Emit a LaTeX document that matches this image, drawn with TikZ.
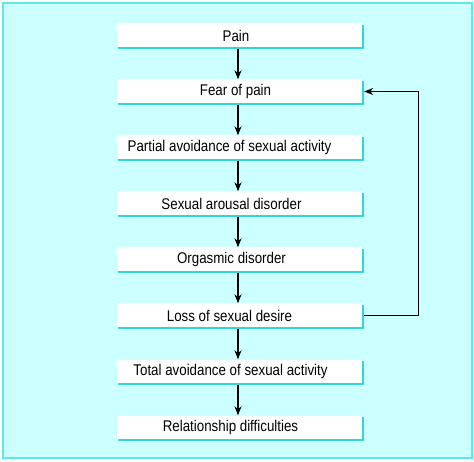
\documentclass[tikz,border=0pt]{standalone}
\usepackage{fontspec}
\setmainfont{Liberation Sans}[FakeStretch=0.86]
\usetikzlibrary{arrows.meta}
\definecolor{bgcyan}{HTML}{CCFFFF}
\definecolor{edgecyan}{HTML}{5EE8E8}
\definecolor{shadowcyan}{HTML}{33D6D6}
\tikzset{
  stepbox/.style={rectangle, fill=white, minimum width=245pt, minimum height=24pt, inner sep=0pt, font=\fontsize{15.5}{17}\selectfont},
  flow/.style={draw=black, line width=1.2pt, -{Stealth[length=9pt,width=7pt]}},
  fback/.style={draw=black, line width=1pt, -{Stealth[length=9pt,width=7pt]}},
  shadowline/.style={draw=shadowcyan, line width=1.8pt}
}
\newcommand{\lft}[2]{\kern-#1pt #2}
\begin{document}
\begin{tikzpicture}[x=1pt,y=1pt]
\useasboundingbox (0,0) rectangle (474,461);
\draw[fill=bgcyan, draw=edgecyan, line width=2pt] (3,3) rectangle (472,458);
\node[stepbox] (b1) at (239.5,{461-35.5}) {\lft{7}{Pain}};
\node[stepbox] (b2) at (239.5,{461-91.5}) {\lft{8}{Fear of pain}};
\node[stepbox] (b3) at (239.5,{461-147.5}) {\lft{20}{Partial avoidance of sexual activity}};
\node[stepbox] (b4) at (239.5,{461-203.5}) {\lft{16}{Sexual arousal disorder}};
\node[stepbox] (b5) at (239.5,{461-259.5}) {\lft{16}{Orgasmic disorder}};
\node[stepbox] (b6) at (239.5,{461-315.5}) {\lft{20}{Loss of sexual desire}};
\node[stepbox] (b7) at (239.5,{461-371.5}) {\lft{18}{Total avoidance of sexual activity}};
\node[stepbox] (b8) at (239.5,{461-427.5}) {\lft{18}{Relationship difficulties}};
\foreach \n in {b1,b2,b3,b4,b5,b6,b7,b8}{
  \draw[shadowline] ([xshift=1.5pt,yshift=-0.5pt]\n.south west) -- ([xshift=1pt,yshift=-0.5pt]\n.south east) -- ([xshift=1pt,yshift=-2pt]\n.north east);
}
\foreach \a/\b in {b1/b2,b2/b3,b3/b4,b4/b5,b5/b6,b6/b7,b7/b8}{
  \draw[flow] ([xshift=-1.5pt,yshift=-1pt]\a.south) -- ([xshift=-1.5pt]\b.north);
}
\coordinate (fbR) at (418,0);
\draw[fback] ([xshift=2pt]b6.east) -- (b6.east -| fbR) -- (b2.east -| fbR) -- ([xshift=2pt]b2.east);
\end{tikzpicture}
\end{document}
